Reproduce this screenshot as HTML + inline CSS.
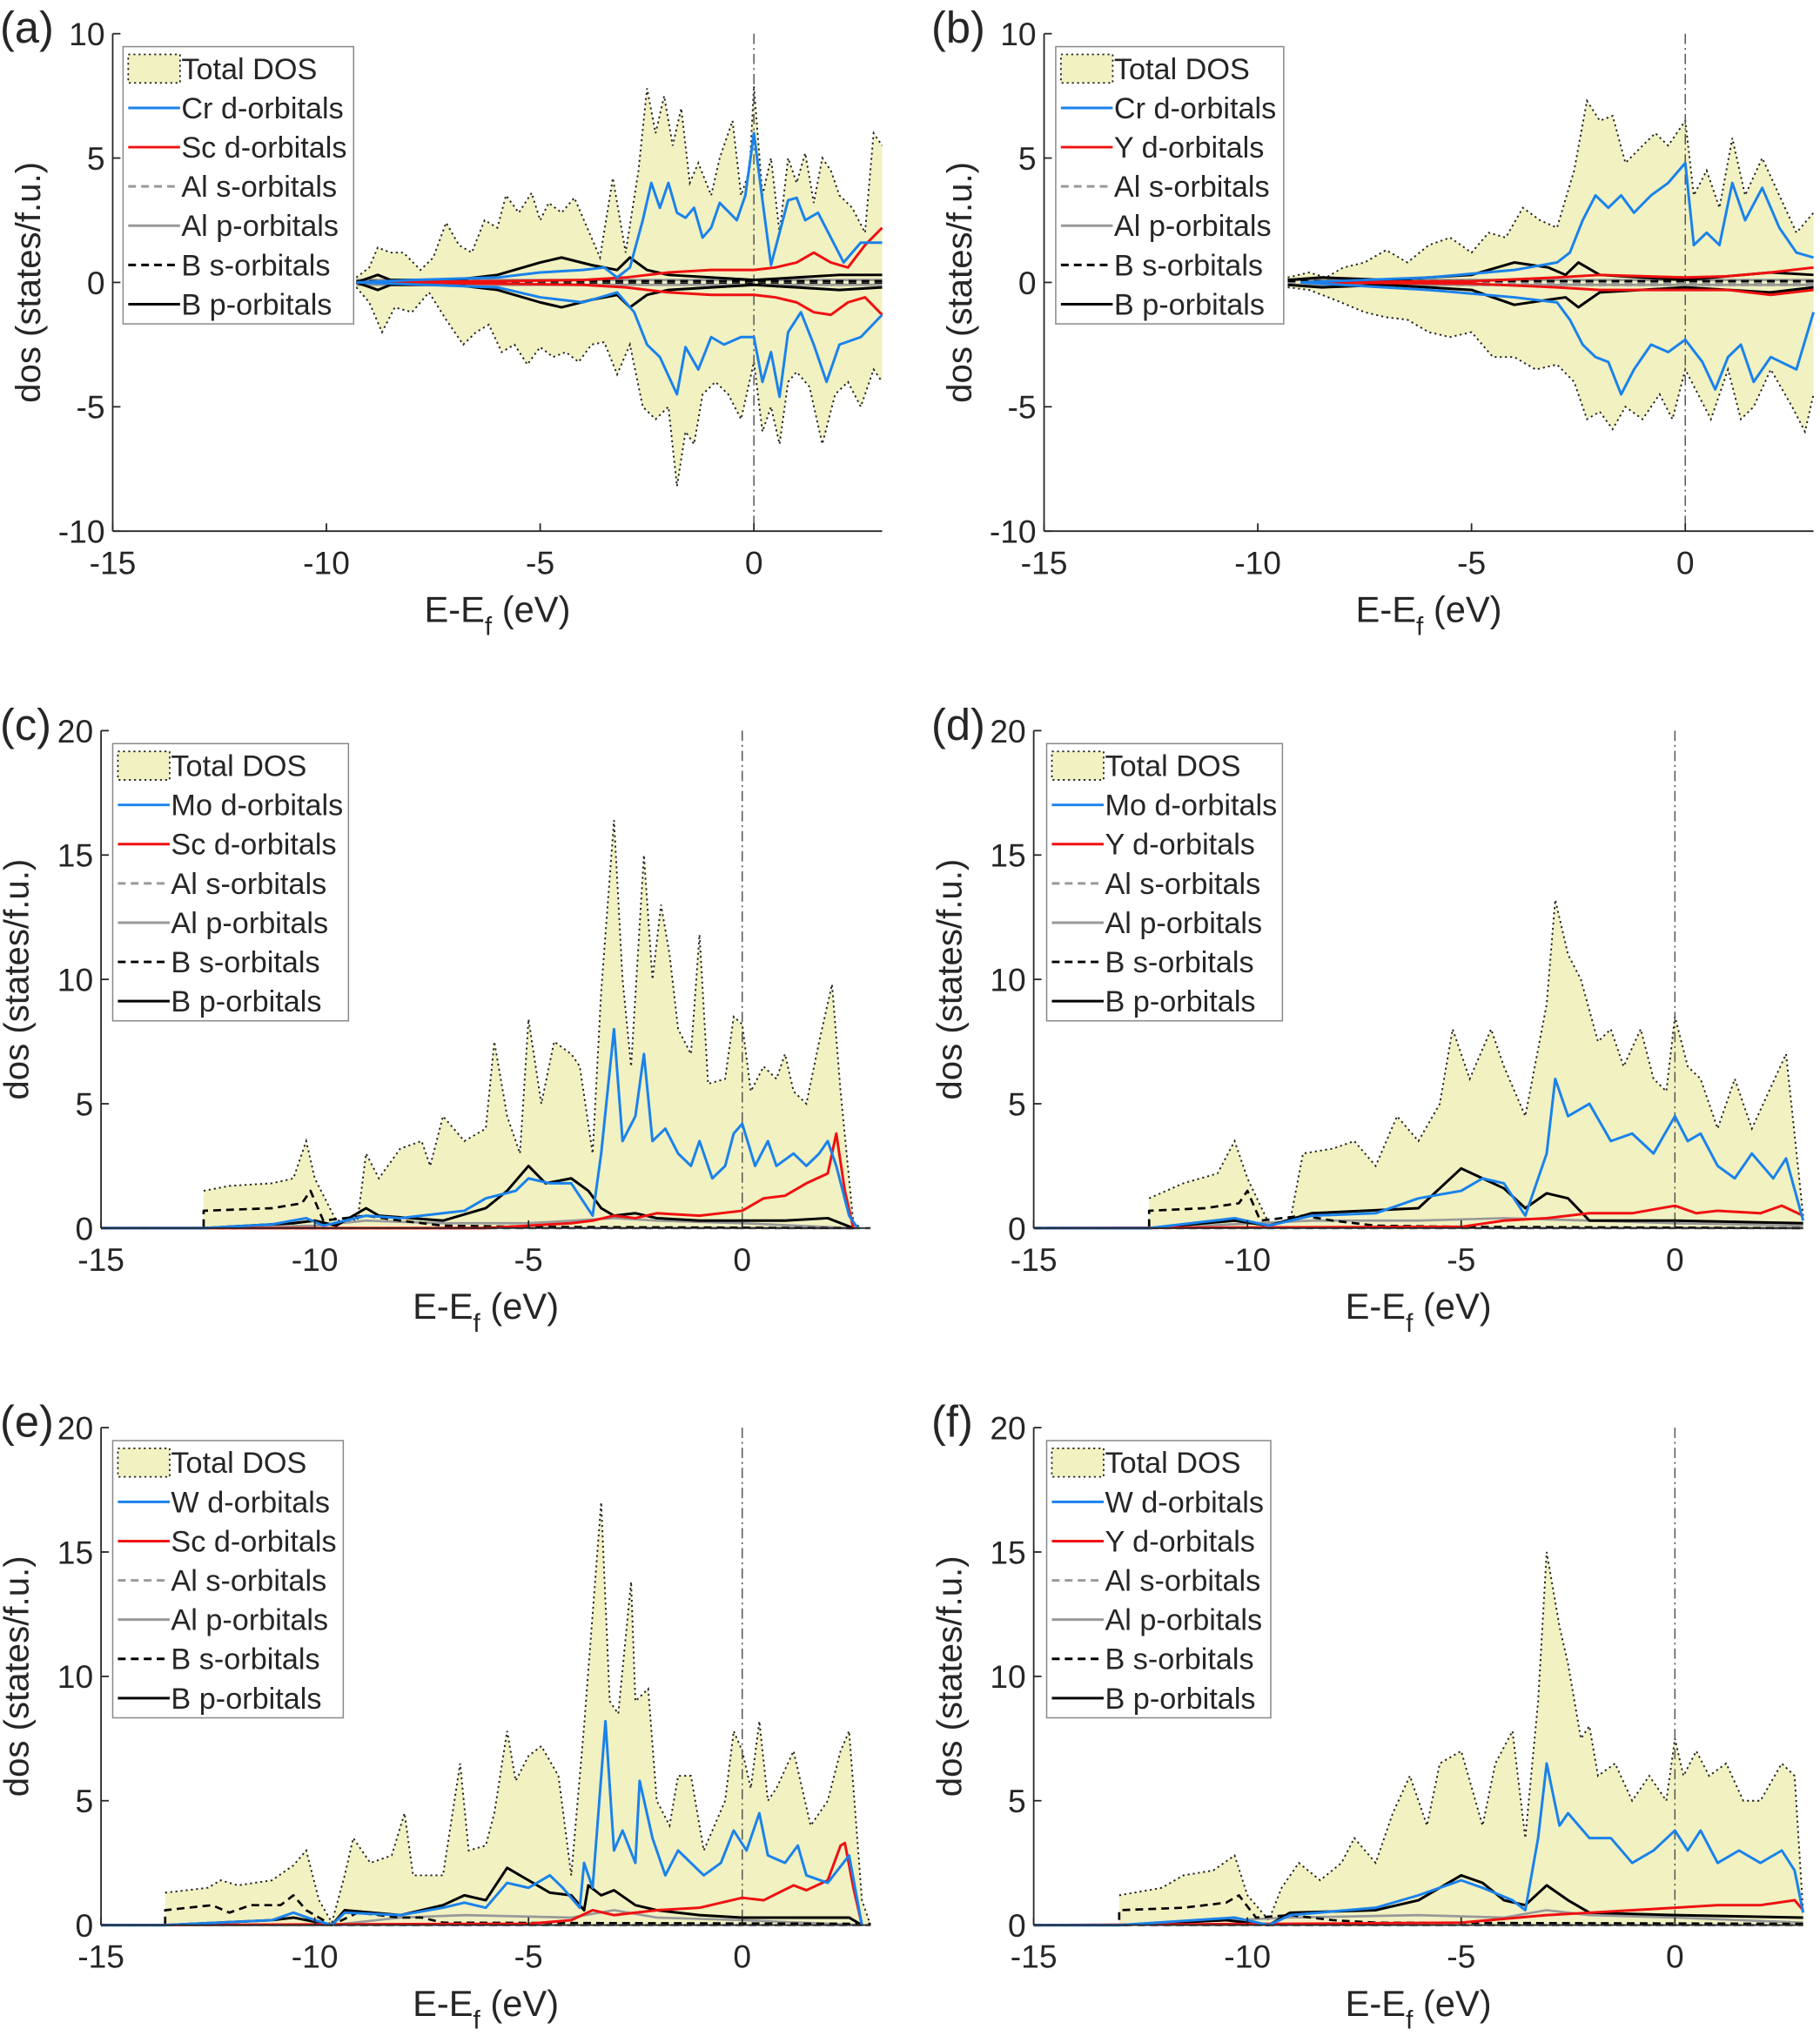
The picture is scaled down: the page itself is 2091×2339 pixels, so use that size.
<!DOCTYPE html>
<html><head><meta charset="utf-8">
<style>
html,body{margin:0;padding:0;background:#fff;}
svg{display:block;}
text{font-family:"Liberation Sans",Arial,sans-serif;fill:#262626;}
</style></head>
<body>
<svg id="s" width="2091" height="2339" viewBox="0 0 1405 1571.6" preserveAspectRatio="none" xmlns="http://www.w3.org/2000/svg"></svg>
<script>
const S=document.getElementById('s');
let out='';
const BLUE='#1a82eb',RED='#f01010',FILL='#f1f1c2';
function P(x0,y0,pts,neg){return pts.map(p=>[(x0+p[0]*33).toFixed(1),(y0-(neg?-1:1)*p[1]*19.2).toFixed(1)]);}
function pl(arr){return arr.map(p=>p[0]+','+p[1]).join(' ');}
function line(x0,y0,pts,col,w,dash){out+=`<polyline points="${pl(P(x0,y0,pts))}" fill="none" stroke="${col}" stroke-width="${w}" ${dash?'stroke-dasharray="'+dash+'"':''} stroke-linejoin="round"/>`;}
function parse(s){return s.trim().split(/\s*,\s*/).map(t=>t.split(':').map(Number));}
function panel(c){
 const x0=c.x0,y0=c.y0,left=x0-15*33,right=x0+3*33;
 const top=y0-c.ymax*19.2,bot=y0-c.ymin*19.2;
 let tu=parse(c.tu);
 let poly;
 if(c.td){let td=parse(c.td);poly=P(x0,y0,tu).concat(P(x0,y0,td).reverse());}
 else{poly=P(x0,y0,tu);poly.push([(x0+tu[tu.length-1][0]*33).toFixed(1),y0]);poly.unshift([(x0+tu[0][0]*33).toFixed(1),y0]);}
 out+=`<polygon points="${pl(poly)}" fill="${FILL}" stroke="none"/>`;
 out+=`<polyline points="${pl(P(x0,y0,tu))}" fill="none" stroke="#222" stroke-width="1.3" stroke-dasharray="1.5 2.5"/>`;
 if(c.td)out+=`<polyline points="${pl(P(x0,y0,parse(c.td)))}" fill="none" stroke="#222" stroke-width="1.3" stroke-dasharray="1.5 2.5"/>`;
 out+=`<line x1="${x0}" y1="${top}" x2="${x0}" y2="${bot}" stroke="#555" stroke-width="1" stroke-dasharray="8 3 1.5 3"/>`;
 const xs=c.start;
 line(x0,y0,[[xs,0],[3,0]],'#999',2,'6 4');
 line(x0,y0,parse(c.alp),'#999',1.8);
 line(x0,y0,parse(c.bs),'#000',1.8,'6 4');
 if(c.bsd)line(x0,y0,parse(c.bsd),'#000',1.8,'6 4');
 if(c.alpd)line(x0,y0,parse(c.alpd),'#999',1.8);
 line(x0,y0,parse(c.bp),'#000',2);
 if(c.bpd)line(x0,y0,parse(c.bpd),'#000',2);
 line(x0,y0,parse(c.r),RED,2);
 if(c.rd)line(x0,y0,parse(c.rd),RED,2);
 line(x0,y0,parse(c.b),BLUE,2);
 if(c.bd)line(x0,y0,parse(c.bd),BLUE,2);
 out+=`<line x1="${left}" y1="${top}" x2="${left}" y2="${bot}" stroke="#262626" stroke-width="1.2"/>`;
 out+=`<line x1="${left}" y1="${bot}" x2="${right}" y2="${bot}" stroke="#262626" stroke-width="1.2"/>`;
 for(let e=-15;e<=0;e+=5){let x=x0+e*33;out+=`<line x1="${x}" y1="${bot}" x2="${x}" y2="${bot-6}" stroke="#262626" stroke-width="1.2"/>`;
  out+=`<text x="${x}" y="${bot+33}" font-size="25" text-anchor="middle">${e}</text>`;}
 for(let v=c.ymin;v<=c.ymax;v+=5){let y=y0-v*19.2;out+=`<line x1="${left}" y1="${y}" x2="${left+6}" y2="${y}" stroke="#262626" stroke-width="1.2"/>`;
  out+=`<text x="${left-6}" y="${y+9}" font-size="25" text-anchor="end">${v}</text>`;}
 out+=`<text x="${(left+right)/2}" y="${bot+70}" font-size="28" text-anchor="middle">E-E<tspan font-size="20" dy="10">f</tspan><tspan dy="-10"> (eV)</tspan></text>`;
 const my=(top+bot)/2;
 out+=`<text x="0" y="0" font-size="27" text-anchor="middle" transform="translate(${left-56},${my}) rotate(-90)">dos  (states/f.u.)</text>`;
 out+=`<text x="${c.plx}" y="${top+7}" font-size="34">${c.lab}</text>`;
 const lx=left+c.lgx,ly=top+10,lw=c.lw;
 out+=`<rect x="${lx}" y="${ly}" width="${lw}" height="214" fill="#fff" stroke="#888" stroke-width="1"/>`;
 const names=['Total DOS',c.n1+' d-orbitals',c.n2+' d-orbitals','Al s-orbitals','Al p-orbitals','B s-orbitals','B p-orbitals'];
 const st=[null,[BLUE,''],[RED,''],['#999','6 4'],['#999',''],['#000','6 4'],['#000','']];
 for(let i=0;i<7;i++){const y=ly+17+i*30.3;
  if(i==0)out+=`<rect x="${lx+4}" y="${y-11}" width="40" height="22" fill="${FILL}" stroke="#222" stroke-width="1.2" stroke-dasharray="1.5 2.5"/>`;
  else out+=`<line x1="${lx+4}" y1="${y}" x2="${lx+44}" y2="${y}" stroke="${st[i][0]}" stroke-width="2" ${st[i][1]?'stroke-dasharray="'+st[i][1]+'"':''}/>`;
  out+=`<text x="${lx+45}" y="${y+8}" font-size="23">${names[i]}</text>`;}
}
const aTU='-9.3:0.2,-9:0.6,-8.8:1.4,-8.5:1.2,-8.2:1.2,-7.8:0.5,-7.5:1.0,-7.2:2.4,-6.9:1.5,-6.6:1.2,-6.3:2.5,-6:2.2,-5.8:3.5,-5.5:2.8,-5.2:3.6,-5:2.5,-4.8:3.2,-4.5:2.8,-4.2:3.4,-3.9:2.2,-3.6:1.0,-3.3:4.2,-3:1.2,-2.7:4.5,-2.5:7.8,-2.3:6,-2.1:7.5,-1.9:5.5,-1.7:7,-1.5:4,-1.3:4.8,-1:3.5,-0.8:5,-0.5:6.5,-0.3:3.5,-0.1:4.5,0:7.9,0.2:3.5,0.4:5,0.6:2,0.8:5,1:4,1.2:5.2,1.4:3.2,1.6:5,1.8:4.5,2:3.5,2.3:3,2.6:2,2.8:6,3:5.5';
const aTD='-9.3:-0.2,-9:-0.8,-8.7:-2,-8.4:-1,-8:-1.2,-7.6:-0.4,-7.2:-1.5,-6.8:-2.5,-6.5:-2,-6.2:-1.7,-5.9:-2.8,-5.6:-2.5,-5.3:-3.3,-5:-2.6,-4.7:-3,-4.4:-2.8,-4.1:-3.2,-3.8:-2.5,-3.5:-2.4,-3.2:-3.7,-2.9:-2.5,-2.6:-5,-2.3:-5.5,-2:-5,-1.8:-8.2,-1.6:-6,-1.4:-6.5,-1.2:-4.5,-0.9:-4,-0.6:-4.5,-0.3:-5.5,0:-3.2,0.2:-6,0.4:-5,0.6:-6.5,0.8:-4,1:-3.6,1.3:-4.2,1.6:-6.5,1.9:-4.5,2.2:-4,2.5:-5,2.8:-3.5,3:-4';
panel({x0:582,y0:218,ymin:-10,ymax:10,lab:'(a)',plx:0,lgx:8,lw:178,n1:'Cr',n2:'Sc',start:-9.3,tu:aTU,td:aTD,
 b:'-9.3:0,-8:0.1,-6:0.2,-5:0.4,-4:0.5,-3.5:0.6,-3.2:0.2,-2.9:0.6,-2.6:2.5,-2.4:4,-2.2:3,-2:4,-1.8:2.8,-1.6:2.6,-1.4:3,-1.2:1.8,-1:2.2,-0.8:3.2,-0.4:2.5,-0.2:3.5,0:6,0.2:3.3,0.4:0.7,0.6:2,0.8:3.3,1:3.4,1.2:2.5,1.5:2.8,1.8:1.8,2.1:0.8,2.5:1.6,3:1.6',
 bd:'-9.3:0,-6:-0.2,-5:-0.6,-4:-0.8,-3.2:-0.4,-2.8:-1.2,-2.5:-2.5,-2.2:-3,-1.8:-4.5,-1.6:-2.6,-1.3:-3.5,-1:-2.2,-0.7:-2.5,-0.3:-2.2,0:-2.2,0.2:-4,0.4:-2.8,0.6:-4.6,0.8:-2,1.1:-1.2,1.4:-2.5,1.7:-4,2:-2.5,2.5:-2.2,3:-1.3',
 r:'-9.3:0,-6:0.05,-4:0.1,-3:0.2,-2:0.4,-1:0.5,0:0.5,0.5:0.6,1:0.8,1.4:1.2,1.8:0.8,2.2:0.6,2.6:1.5,3:2.2',
 rd:'-9.3:0,-6:-0.05,-4:-0.1,-3:-0.2,-2:-0.4,-1:-0.5,0:-0.5,0.5:-0.6,1:-0.8,1.4:-1.2,1.8:-1.3,2.2:-0.8,2.6:-0.6,3:-1.3',
 bp:'-9.3:0,-8.8:0.3,-8.5:0.1,-7:0.1,-6:0.3,-5:0.8,-4.5:1,-3.8:0.7,-3.2:0.5,-2.9:1,-2.5:0.5,-2:0.3,0:0.1,1:0.2,2:0.3,3:0.3',
 bpd:'-9.3:0,-8.8:-0.3,-8.5:-0.1,-7:-0.1,-6:-0.3,-5:-0.8,-4.5:-1,-3.8:-0.7,-3.2:-0.5,-2.9:-1,-2.5:-0.5,-2:-0.3,0:-0.1,1:-0.2,2:-0.3,3:-0.2',
 bs:'-9.3:0.05,3:0.05',bsd:'-9.3:-0.05,3:-0.05',alp:'-9.3:0.1,3:0.1',alpd:'-9.3:-0.1,3:-0.1'});
panel({x0:1301,y0:218,ymin:-10,ymax:10,lab:'(b)',plx:719,lgx:9,lw:176,n1:'Cr',n2:'Y',start:-9.3,
 tu:'-9.3:0.2,-8.8:0.4,-8.4:0.2,-8:0.6,-7.5:0.8,-7:1.3,-6.5:0.8,-6:1.5,-5.5:1.8,-5:1.2,-4.6:2,-4.2:1.8,-3.8:3,-3.4:2.5,-3:2.2,-2.6:4.5,-2.3:7.3,-2:6.5,-1.7:6.7,-1.4:4.8,-1:5.5,-0.7:6,-0.4:5.5,0:6.5,0.2:3.5,0.5:4.5,0.8:3,1.1:5.8,1.4:3.5,1.8:5,2.2:3.5,2.6:2,3:2.8',
 td:'-9.3:-0.2,-8.8:-0.3,-8.2:-0.7,-7.5:-1.2,-7:-1.4,-6.5:-1.5,-6:-2,-5.5:-2.2,-5:-2,-4.5:-3,-4:-3,-3.5:-3.5,-3:-3.3,-2.6:-4,-2.3:-5.5,-2:-5.2,-1.7:-5.9,-1.4:-5,-1:-5.5,-0.6:-4.5,-0.3:-5.5,0:-3.5,0.3:-4.5,0.6:-5.5,1:-3.5,1.3:-5.5,1.6:-5,2:-3.5,2.5:-5,2.8:-6,3:-4.5',
 b:'-9:0,-6:0.2,-4:0.5,-3:0.8,-2.7:1.2,-2.4:2.5,-2.1:3.5,-1.8:3,-1.5:3.5,-1.2:2.8,-0.8:3.5,-0.4:4,0:4.8,0.2:1.5,0.5:2,0.8:1.5,1.1:4,1.4:2.5,1.8:3.8,2.2:2.2,2.6:1.2,3:1',
 bd:'-9:0,-6:-0.3,-4:-0.6,-3:-0.8,-2.7:-1.5,-2.4:-2.5,-2.1:-3,-1.8:-3.2,-1.5:-4.5,-1.2:-3.5,-0.8:-2.5,-0.4:-2.8,0:-2.3,0.4:-3.2,0.7:-4.3,1:-3,1.3:-2.5,1.6:-4,2:-3,2.6:-3.5,3:-1.2',
 r:'-9:0,-5:0.05,-3:0.2,-2:0.3,0:0.2,1:0.25,2:0.4,3:0.6',rd:'-9:0,-5:-0.05,-3:-0.2,-2:-0.3,0:-0.3,1:-0.3,2:-0.5,3:-0.3',
 bp:'-9.3:0.1,-8.5:0.2,-7:0.1,-5:0.3,-4:0.8,-3.2:0.6,-2.8:0.3,-2.5:0.8,-2:0.3,0:0.1,2:0.4,3:0.3',
 bpd:'-9.3:-0.1,-8.5:-0.2,-7:-0.1,-5:-0.3,-4:-0.9,-3.2:-0.7,-2.8:-0.6,-2.5:-1,-2:-0.4,0:-0.2,2:-0.4,3:-0.2',
 bs:'-9.3:0.05,3:0.05',bsd:'-9.3:-0.1,3:-0.1',alp:'-9.3:0.1,3:0.1',alpd:'-9.3:-0.1,3:-0.1'});
panel({x0:573,y0:948,ymin:0,ymax:20,lab:'(c)',plx:0,lgx:9,lw:182,n1:'Mo',n2:'Sc',start:-15,
 tu:'-12.6:1.5,-12:1.7,-11:1.8,-10.5:2,-10.2:3.5,-10:2,-9.5:0.3,-9:0.3,-8.8:3,-8.5:2,-8:3.2,-7.5:3.5,-7.3:2.5,-7:4.5,-6.5:3.5,-6:4,-5.8:7.5,-5.5:4.5,-5.2:3,-5:8.4,-4.7:5,-4.4:7.5,-4:7,-3.8:6.5,-3.5:3,-3.3:9.5,-3:16.4,-2.8:10,-2.6:6.5,-2.3:15,-2.1:10,-1.9:13,-1.7:11,-1.5:8,-1.2:7,-1:11.8,-0.8:5.8,-0.4:6,-0.2:8.5,0:8.2,0.2:5.5,0.5:6.5,0.8:6,1:7,1.2:5.5,1.5:5,1.8:7.5,2.1:9.8,2.3:5.5,2.6:0.2,2.8:0',
 b:'-15:0,-12.6:0,-11:0.15,-10.2:0.4,-9.8:0.1,-8.8:0.5,-8:0.4,-7:0.6,-6.5:0.7,-6:1.2,-5.3:1.5,-5:2,-4.5:1.8,-4:1.8,-3.5:0.5,-3.3:3,-3:8,-2.8:3.5,-2.5:4.5,-2.3:7,-2.1:3.5,-1.8:4,-1.5:3,-1.2:2.5,-1:3.5,-0.7:2,-0.4:2.5,-0.2:3.8,0:4.2,0.3:2.5,0.6:3.5,0.8:2.5,1.2:3,1.5:2.5,1.8:3,2:3.5,2.2:2.5,2.5:0.5,2.7:0',
 r:'-15:0,-6:0,-5:0.1,-4:0.2,-3.5:0.3,-3:0.5,-2.5:0.4,-2:0.6,-1:0.5,0:0.7,0.5:1.2,1:1.3,1.5:1.8,2:2.2,2.2:3.8,2.4:1.5,2.6:0',
 bs:'-15:0,-12.6:0,-12.6:0.7,-11:0.8,-10.3:1,-10.1:1.5,-9.8:0.3,-8.8:0.5,-8:0.3,-7:0.1,-5:0.05,2.6:0',
 bp:'-15:0,-12.6:0,-10.5:0.2,-10:0.3,-9.5:0.1,-8.8:0.8,-8.5:0.5,-7:0.3,-6:0.8,-5.5:1.5,-5:2.5,-4.6:1.8,-4:2,-3.6:1.5,-3.3:0.8,-3:0.5,-2.5:0.6,-2:0.4,-1:0.3,0:0.3,1:0.3,2:0.4,2.6:0',
 alp:'-15:0,-12.6:0,-10:0.1,-8.8:0.3,-7:0.2,-5:0.2,-3:0.4,-2:0.3,0:0.2,2.6:0'});
panel({x0:1293,y0:948,ymin:0,ymax:20,lab:'(d)',plx:719,lgx:10,lw:182,n1:'Mo',n2:'Y',start:-15,
 tu:'-12.3:1.2,-11.5:1.8,-10.7:2.2,-10.3:3.5,-10:2,-9.5:0.2,-9:0.3,-8.7:3,-8:3.2,-7.5:3.5,-7:2.5,-6.5:4.5,-6:3.5,-5.5:5,-5.2:8,-4.8:6,-4.3:8,-4:6.5,-3.5:4.5,-3:9,-2.8:13.2,-2.5:11,-2.2:10,-1.8:7.5,-1.5:8,-1.2:6.5,-0.8:8,-0.5:6,-0.2:5.5,0:8.5,0.3:6.5,0.6:6,1:4,1.4:6,1.8:4,2.2:5.5,2.6:7,3:0.5',
 b:'-15:0,-12.3:0,-10.3:0.4,-9.5:0.1,-8.5:0.5,-7:0.6,-6:1.2,-5:1.5,-4.5:2,-4:1.8,-3.5:0.5,-3:3,-2.8:6,-2.5:4.5,-2:5,-1.5:3.5,-1:3.8,-0.5:3,0:4.5,0.3:3.5,0.6:3.8,1:2.5,1.4:2,1.8:3,2.3:2,2.6:2.8,3:0.3',
 r:'-15:0,-5:0.05,-4:0.3,-3:0.4,-2:0.6,-1:0.6,0:0.9,0.5:0.6,1:0.7,2:0.6,2.5:0.9,3:0.5',
 bs:'-15:0,-12.3:0,-12.3:0.7,-11:0.8,-10.2:1,-10:1.5,-9.7:0.3,-8.7:0.5,-8:0.3,-7:0.1,-5:0.05,3:0',
 bp:'-15:0,-12.3:0,-10.3:0.3,-9.5:0.1,-8.5:0.6,-6:0.8,-5:2.4,-4.5:2,-4:1.6,-3.5:0.8,-3:1.4,-2.5:1.2,-2:0.3,0:0.3,3:0.2',
 alp:'-15:0,-12.3:0,-8.5:0.3,-6:0.3,-4:0.4,-2:0.3,0:0.2,3:0.1'});
panel({x0:573,y0:1486,ymin:0,ymax:20,lab:'(e)',plx:0,lgx:9,lw:178,n1:'W',n2:'Sc',start:-15,
 tu:'-13.5:1.3,-12.5:1.5,-12.2:1.8,-11.8:1.6,-11:1.8,-10.5:2.4,-10.2:3,-9.9:1,-9.6:0.1,-9.3:2,-9.1:3.5,-8.7:2.5,-8.2:2.8,-7.9:4.5,-7.7:2,-7:2,-6.6:6.5,-6.4:3,-6:3.2,-5.8:4.5,-5.5:7.8,-5.3:5.8,-5:6.8,-4.7:7.2,-4.3:6,-4:2,-3.7:8,-3.3:17,-3.1:9,-2.9:8.5,-2.6:13.8,-2.5:9,-2.2:9.5,-2:5,-1.7:4,-1.5:6,-1.2:6,-0.9:3,-0.4:5,-0.2:7.8,0:7,0.2:5.5,0.4:8.2,0.6:5,0.8:5.5,1.2:7,1.6:4,2:5,2.3:7,2.5:7.8,2.8:1,3:0',
 b:'-15:0,-13.5:0,-11:0.2,-10.5:0.5,-10:0.2,-9.6:0,-9.3:0.5,-8:0.4,-7:0.7,-6.5:0.9,-6:0.7,-5.5:1.7,-5:1.5,-4.5:2,-4.2:1.5,-3.8:0.7,-3.7:2.5,-3.5:1.5,-3.2:8.2,-3:3,-2.8:3.8,-2.5:2.5,-2.4:5.8,-2.1:3.5,-1.8:2,-1.5:3,-1.2:2.5,-0.9:2,-0.5:2.5,-0.2:3.8,0.1:3,0.4:4.5,0.6:2.8,1:2.5,1.3:3.2,1.5:2,2:1.7,2.5:2.8,2.8:0',
 r:'-15:0,-5:0.05,-4:0.2,-3.5:0.6,-3:0.4,-2:0.6,-1:0.7,0:1.1,0.5:1,1.2:1.6,1.5:1.4,2:1.8,2.3:3.2,2.4:3.3,2.6:1.5,2.8:0',
 bs:'-15:0,-13.5:0,-13.5:0.6,-12.4:0.8,-12:0.5,-11.5:0.8,-10.8:0.8,-10.5:1.2,-10.2:0.6,-9.6:0,-9:0.5,-8:0.3,-7.5:0.3,-7:0.1,3:0.05',
 bp:'-15:0,-13.5:0,-11:0.2,-10.5:0.3,-9.6:0,-9.3:0.6,-8:0.4,-7:0.8,-6.5:1.2,-6:1,-5.5:2.3,-5:1.8,-4.5:1.3,-4:1.2,-3.7:0.6,-3.6:1.6,-3.3:1.2,-3:1.4,-2.5:0.8,-2:0.6,-1:0.4,0:0.3,2.5:0.3,2.8:0',
 alp:'-15:0,-13.5:0,-9.6:0,-8:0.3,-6.5:0.4,-4:0.3,-3:0.6,-2:0.3,0:0.2,2.8:0'});
panel({x0:1293,y0:1486,ymin:0,ymax:20,lab:'(f)',plx:719,lgx:10,lw:173,n1:'W',n2:'Y',start:-15,
 tu:'-13:1.2,-12:1.5,-11.5:2,-10.8:2.2,-10.3:2.8,-10:1.2,-9.5:0.2,-9.2:1.5,-8.8:2.5,-8.3:1.8,-7.8:2.5,-7.5:3.5,-7:2.5,-6.6:4.5,-6.2:6,-5.8:4,-5.5:6.5,-5:7,-4.5:4,-4.2:6.5,-3.8:7.8,-3.5:3.5,-3.2:9,-3:15,-2.7:12,-2.5:10.5,-2.2:7.5,-2:8,-1.8:6,-1.4:6.5,-1:5,-0.6:6,-0.2:5,0:7.5,0.2:6,0.5:7,0.8:6,1.2:6.5,1.6:5,2:5,2.5:6.5,2.8:6,3:0.5',
 b:'-15:0,-13:0,-10.3:0.3,-9.5:0,-9:0.4,-7:0.7,-6:1.2,-5:1.8,-4.5:1.5,-3.8:1,-3.5:0.6,-3.2:3.5,-3:6.5,-2.7:4,-2.5:4.5,-2:3.5,-1.5:3.5,-1:2.5,-0.5:3,0:3.8,0.3:3,0.6:3.8,1:2.5,1.5:3,2:2.5,2.5:3,2.8:2.2,3:0.5',
 r:'-15:0,-9:0.05,-5:0.1,-3:0.4,-2:0.5,-1:0.6,0:0.7,1:0.8,2:0.8,2.8:1,3:0.6',
 bs:'-15:0,-13:0,-13:0.6,-11.5:0.7,-10.5:0.9,-10.2:1.2,-9.8:0.3,-9:0.4,-8:0.2,-7:0.1,3:0.05',
 bp:'-15:0,-13:0,-10.5:0.2,-9.5:0,-9:0.5,-7:0.6,-6:1,-5:2,-4.5:1.7,-4:1,-3.5:0.8,-3:1.6,-2.5:1,-2:0.5,0:0.4,3:0.3',
 alp:'-15:0,-13:0,-9:0.3,-6:0.4,-4:0.3,-3:0.6,-2:0.4,0:0.3,3:0.1'});
S.innerHTML=out;
</script>
</body></html>
